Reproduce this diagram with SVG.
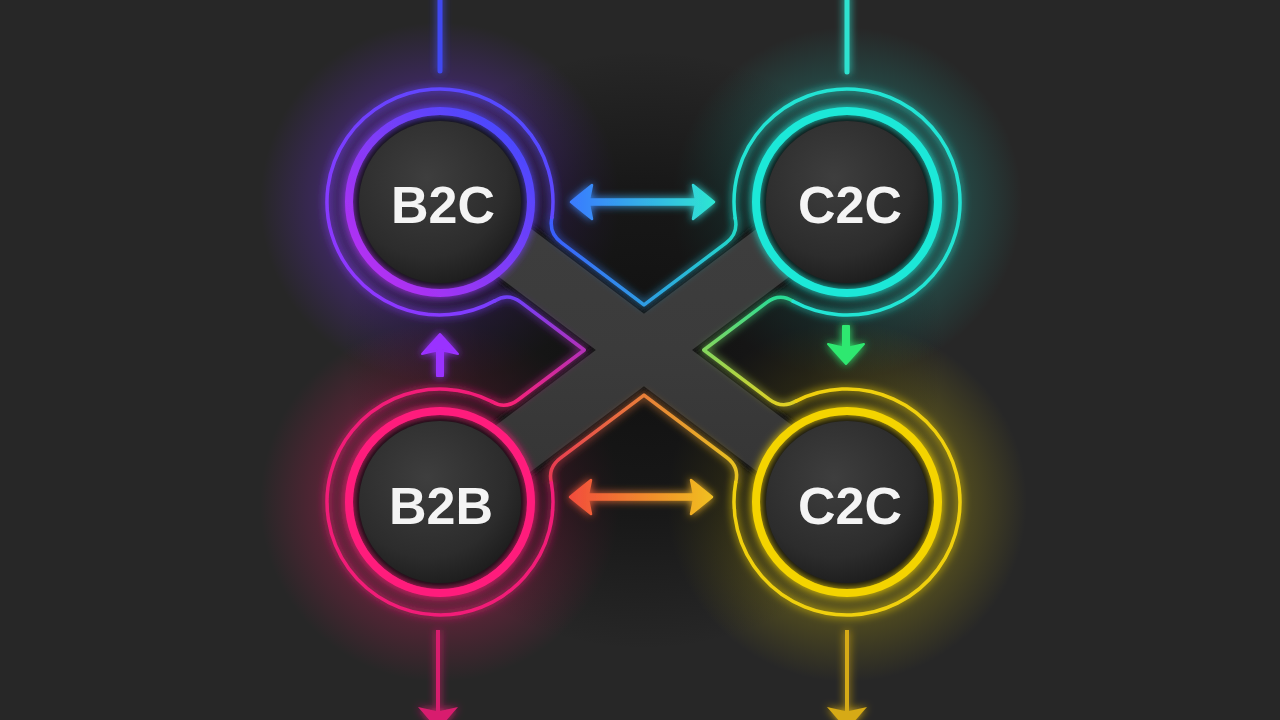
<svg xmlns="http://www.w3.org/2000/svg" width="1280" height="720" viewBox="0 0 1280 720">
  <defs>
    <style>
      .ring-out { fill: none; stroke-width: 3.5; stroke-linecap: round; }
      .ring-in { fill: none; stroke-width: 8; }
      .trace { fill: none; stroke-width: 3.5; stroke-linejoin: round; stroke-linecap: round; }
      .label { font-family: "Liberation Sans", Arial, sans-serif; font-weight: bold; font-size: 52px; fill: #f4f4f4; text-anchor: middle; }
      .vline { stroke-width: 5; stroke-linecap: round; fill: none; }
    </style>
    <filter id="glow" x="-50%" y="-50%" width="200%" height="200%">
      <feGaussianBlur stdDeviation="4" result="b"/>
      <feMerge><feMergeNode in="b"/><feMergeNode in="SourceGraphic"/></feMerge>
    </filter>
    <filter id="soft" x="-20%" y="-20%" width="140%" height="140%">
      <feGaussianBlur stdDeviation="2"/>
    </filter>
    <radialGradient id="darkCenter" cx="644" cy="350" r="300" gradientUnits="userSpaceOnUse">
      <stop offset="0" stop-color="#0c0c0c" stop-opacity="0.85"/>
      <stop offset="0.55" stop-color="#0c0c0c" stop-opacity="0.55"/>
      <stop offset="1" stop-color="#0c0c0c" stop-opacity="0"/>
    </radialGradient>
    <radialGradient id="gPurple"><stop offset="0.55" stop-color="#7a2cff" stop-opacity="0.32"/><stop offset="1" stop-color="#7a2cff" stop-opacity="0"/></radialGradient>
    <radialGradient id="gCyan"><stop offset="0.55" stop-color="#18d8c8" stop-opacity="0.24"/><stop offset="1" stop-color="#18d8c8" stop-opacity="0"/></radialGradient>
    <radialGradient id="gPink"><stop offset="0.55" stop-color="#ff1a6a" stop-opacity="0.28"/><stop offset="1" stop-color="#ff1a6a" stop-opacity="0"/></radialGradient>
    <radialGradient id="gYellow"><stop offset="0.55" stop-color="#e8d000" stop-opacity="0.26"/><stop offset="1" stop-color="#e8d000" stop-opacity="0"/></radialGradient>
    <radialGradient id="disc" cx="0.42" cy="0.35" r="0.7">
      <stop offset="0" stop-color="#3e3e3e"/>
      <stop offset="0.7" stop-color="#2c2c2c"/>
      <stop offset="1" stop-color="#1b1b1b"/>
    </radialGradient>
    <linearGradient id="bandG" x1="0" y1="190" x2="0" y2="510" gradientUnits="userSpaceOnUse">
      <stop offset="0" stop-color="#3e3e3e"/>
      <stop offset="0.5" stop-color="#3b3b3b"/>
      <stop offset="1" stop-color="#343434"/>
    </linearGradient>
    <linearGradient id="b2cIn" x1="0" y1="1" x2="1" y2="0">
      <stop offset="0" stop-color="#c42cf0"/>
      <stop offset="1" stop-color="#3a4cff"/>
    </linearGradient>
    <linearGradient id="b2cOut" x1="0" y1="1" x2="1" y2="0">
      <stop offset="0" stop-color="#9a34ff"/>
      <stop offset="1" stop-color="#4a4cff"/>
    </linearGradient>
    <linearGradient id="trV" x1="548" y1="0" x2="740" y2="0" gradientUnits="userSpaceOnUse">
      <stop offset="0" stop-color="#3a5cff"/>
      <stop offset="1" stop-color="#22dcc8"/>
    </linearGradient>
    <linearGradient id="trL" x1="0" y1="292" x2="0" y2="410" gradientUnits="userSpaceOnUse">
      <stop offset="0" stop-color="#6a40ff"/>
      <stop offset="1" stop-color="#ff2070"/>
    </linearGradient>
    <linearGradient id="trR" x1="0" y1="292" x2="0" y2="410" gradientUnits="userSpaceOnUse">
      <stop offset="0" stop-color="#22dc9a"/>
      <stop offset="1" stop-color="#e8d020"/>
    </linearGradient>
    <linearGradient id="trB" x1="548" y1="0" x2="740" y2="0" gradientUnits="userSpaceOnUse">
      <stop offset="0" stop-color="#e83a52"/>
      <stop offset="1" stop-color="#e8c420"/>
    </linearGradient>
    <linearGradient id="arTop" x1="570" y1="0" x2="715" y2="0" gradientUnits="userSpaceOnUse">
      <stop offset="0" stop-color="#3a7aff"/>
      <stop offset="1" stop-color="#2ee6d2"/>
    </linearGradient>
    <linearGradient id="arBot" x1="569" y1="0" x2="713" y2="0" gradientUnits="userSpaceOnUse">
      <stop offset="0" stop-color="#f24c3c"/>
      <stop offset="1" stop-color="#f0c020"/>
    </linearGradient>
  </defs>

  <!-- background -->
  <rect x="0" y="0" width="1280" height="720" fill="#272727"/>
  <g id="glows">
    <circle cx="440" cy="202" r="180" fill="url(#gPurple)"/>
    <circle cx="847" cy="202" r="175" fill="url(#gCyan)"/>
    <circle cx="440" cy="502" r="180" fill="url(#gPink)"/>
    <circle cx="847" cy="502" r="180" fill="url(#gYellow)"/>
  </g>
  <rect x="0" y="0" width="1280" height="720" fill="url(#darkCenter)"/>

  <!-- X band -->
  <g id="x-band" stroke-linecap="butt">
    <line x1="440" y1="196.3" x2="847" y2="503" stroke="#121212" stroke-width="66" filter="url(#soft)"/>
    <line x1="440" y1="503.7" x2="847" y2="197" stroke="#121212" stroke-width="66" filter="url(#soft)"/>
    <line x1="440" y1="196.3" x2="847" y2="503" stroke="url(#bandG)" stroke-width="58"/>
    <line x1="440" y1="503.7" x2="847" y2="197" stroke="url(#bandG)" stroke-width="58"/>
  </g>

  <!-- connectors -->
  <g id="connectors" filter="url(#glow)">
    <path class="trace" stroke="url(#trV)" d="M551.9,217.5 Q548.6,233 561.4,242.6 L644,304.9 L725.8,243.2 Q738.6,233.6 735.2,218.3"/>
    <path class="trace" stroke="url(#trL)" d="M494.6,300.9 Q507.9,292.5 520.7,302.1 L584.2,350 L517.9,400 Q505.1,409.6 491.7,401.5"/>
    <path class="trace" stroke="url(#trR)" d="M793.1,301.3 Q779.7,292.8 766.9,302.4 L703.8,350 L769.6,399.6 Q782.4,409.2 796.1,401.1"/>
    <path class="trace" stroke="url(#trB)" d="M551.4,483 Q547.6,467.7 560.4,458.1 L644,395.1 L726.8,457.5 Q739.6,467.1 735.7,482.4"/>

    <line class="vline" x1="440" y1="-5" x2="440" y2="71" stroke="#3f48f2"/>
    <line class="vline" x1="847" y1="-5" x2="847" y2="72" stroke="#2ee2d0"/>
    <path fill="#d81e6e" d="M436,630 L440,630 L440,711 L458,707 L438,730 L418,707 L436,711 Z"/>
    <path fill="#d6aa12" d="M845,630 L849,630 L849,711 L867,707 L847,730 L827,707 L845,711 Z"/>

    <path fill="#9a30ff" stroke="#9a30ff" stroke-width="2" stroke-linejoin="round" d="M440,334 L458,354 L443,350.5 L443,376 L437,376 L437,350.5 L422,354 Z"/>
    <path fill="#2ee870" stroke="#2ee870" stroke-width="2" stroke-linejoin="round" d="M846,364 L864,344 L849,347.5 L849,326 L843,326 L843,347.5 L828,344 Z"/>

    <path fill="url(#arTop)" stroke="url(#arTop)" stroke-width="2.5" stroke-linejoin="round" d="M571,202 L592,185 L589,199.5 L696,199.5 L693,185 L714,202 L693,219 L696,204.5 L589,204.5 L592,219 Z"/>
    <path fill="url(#arBot)" stroke="url(#arBot)" stroke-width="2.5" stroke-linejoin="round" d="M570,497 L591,480 L588,494.5 L694,494.5 L691,480 L712,497 L691,514 L694,499.5 L588,499.5 L591,514 Z"/>
  </g>

  <!-- nodes -->
  <g id="node-b2c">
    <path class="ring-out" stroke="url(#b2cOut)" filter="url(#glow)" d="M551.9,217.5 A113,113 0 1 0 494.6,300.9"/>
    <circle cx="440" cy="202" r="87" fill="#121212"/>
    <circle cx="440" cy="202" r="91" class="ring-in" stroke="url(#b2cIn)" filter="url(#glow)"/>
    <circle cx="440" cy="202" r="81" fill="url(#disc)"/>
    <text class="label" x="443" y="223">B2C</text>
  </g>
  <g id="node-c2c-top">
    <path class="ring-out" stroke="#22e4d4" filter="url(#glow)" d="M735.2,218.3 A113,113 0 1 1 793.1,301.3"/>
    <circle cx="847" cy="202" r="87" fill="#121212"/>
    <circle cx="847" cy="202" r="91" class="ring-in" stroke="#1ee8d8" filter="url(#glow)"/>
    <circle cx="847" cy="202" r="81" fill="url(#disc)"/>
    <text class="label" x="850" y="223">C2C</text>
  </g>
  <g id="node-b2b">
    <path class="ring-out" stroke="#f21c78" filter="url(#glow)" d="M551.4,483 A113,113 0 1 1 491.7,401.5"/>
    <circle cx="440" cy="502" r="87" fill="#121212"/>
    <circle cx="440" cy="502" r="91" class="ring-in" stroke="#ff1f7c" filter="url(#glow)"/>
    <circle cx="440" cy="502" r="81" fill="url(#disc)"/>
    <text class="label" x="441" y="524">B2B</text>
  </g>
  <g id="node-c2c-bottom">
    <path class="ring-out" stroke="#f0d010" filter="url(#glow)" d="M735.7,482.4 A113,113 0 1 0 796.1,401.1"/>
    <circle cx="847" cy="502" r="87" fill="#121212"/>
    <circle cx="847" cy="502" r="91" class="ring-in" stroke="#f4d400" filter="url(#glow)"/>
    <circle cx="847" cy="502" r="81" fill="url(#disc)"/>
    <text class="label" x="850" y="524">C2C</text>
  </g>
</svg>
